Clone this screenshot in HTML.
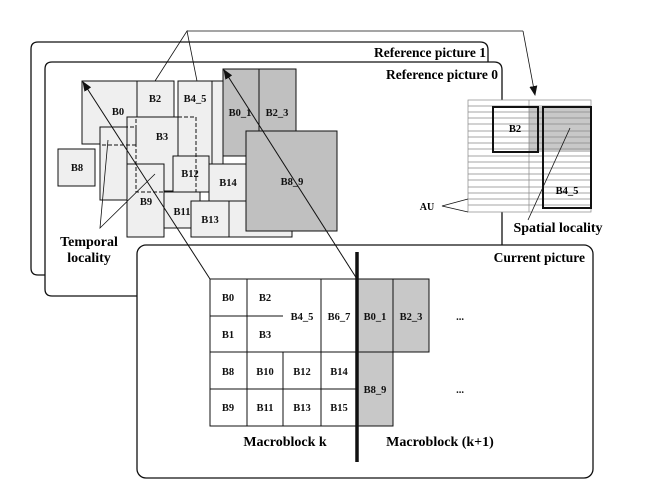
<!DOCTYPE html>
<html><head><style>html,body{margin:0;padding:0;background:#fff}svg{display:block}</style></head><body>
<svg width="646" height="496" viewBox="0 0 646 496" xmlns="http://www.w3.org/2000/svg" font-family="Liberation Serif, serif" font-weight="bold">
<defs><marker id="ah" markerWidth="10" markerHeight="8" refX="9" refY="4" orient="auto" markerUnits="userSpaceOnUse"><path d="M0,0 L10,4 L0,8 z" fill="#111"/></marker></defs>
<!-- Reference picture 1 -->
<path d="M45,275 L38,275 Q31,275 31,268 L31,49 Q31,42 38,42 L480,42 Q488,42 488,50 L488,62" fill="none" stroke="#111" stroke-width="1.3"/>
<text x="486" y="57" font-size="13.5" text-anchor="end">Reference picture 1</text>
<!-- Reference picture 0 -->
<path d="M137,296 L52,296 Q45,296 45,289 L45,69 Q45,62 52,62 L494,62 Q502,62 502,70 L502,100 M502,212 L502,245" fill="none" stroke="#111" stroke-width="1.3"/>
<text x="498" y="79" font-size="13.5" text-anchor="end">Reference picture 0</text>
<!-- ref blocks -->
<g stroke="#111" stroke-width="1" fill="#efefef">
<rect x="82" y="81" width="55" height="63"/>
<rect x="137" y="81" width="37" height="36"/>
<rect x="178" y="81" width="34" height="83"/>
<rect x="212" y="81" width="11" height="83"/>
<rect x="58" y="149" width="37" height="37"/>
<rect x="100" y="127" width="27" height="73"/>
<rect x="127" y="117" width="51" height="74"/>
<rect x="173" y="156" width="36" height="36"/>
<rect x="209" y="164" width="37" height="37"/>
<rect x="127" y="164" width="37" height="73"/>
<rect x="164" y="192" width="36" height="36"/>
<rect x="191" y="201" width="38" height="36"/>
<rect x="229" y="201" width="63" height="36"/>
</g>
<g stroke="#111" stroke-width="1" fill="none" stroke-dasharray="4,2">
<rect x="136" y="117" width="60" height="75"/>
<rect x="100" y="127" width="36" height="18"/>
</g>
<g stroke="#111" stroke-width="1" fill="#c0c0c0">
<rect x="223" y="69" width="36" height="87"/>
<rect x="259" y="69" width="37" height="87"/>
<rect x="246" y="131" width="91" height="100"/>
</g>
<g font-size="10.5" text-anchor="middle" fill="#111">
<text x="118" y="115">B0</text><text x="155" y="102">B2</text><text x="195" y="102">B4_5</text>
<text x="162" y="140">B3</text><text x="77" y="171">B8</text><text x="190" y="177">B12</text>
<text x="228" y="186">B14</text><text x="146" y="205">B9</text><text x="182" y="215">B11</text>
<text x="210" y="223">B13</text><text x="240" y="116">B0_1</text><text x="277" y="116">B2_3</text>
<text x="292" y="185">B8_9</text>
</g>
<!-- temporal locality lines -->
<path d="M108,140 L100,228 L155,174" fill="none" stroke="#111" stroke-width="0.8"/>
<text x="89" y="246" font-size="14" text-anchor="middle">Temporal</text>
<text x="89" y="262" font-size="14" text-anchor="middle">locality</text>
<!-- top lines -->
<path d="M155,81 L187,31 L197,81 M187,31 L523,31" fill="none" stroke="#111" stroke-width="0.8"/>
<line x1="523" y1="31" x2="535" y2="95" stroke="#111" stroke-width="0.8" marker-end="url(#ah)"/>
<!-- AU grid -->
<rect x="529" y="107" width="62" height="45" fill="#c8c8c8"/>
<g stroke="#888" stroke-width="0.7">
<rect x="468" y="100" width="123" height="112" fill="none"/>
<line x1="529" y1="100" x2="529" y2="212"/>
<path d="M468,106h123M468,112h123M468,118h123M468,124h123M468,131h123M468,137h123M468,143h123M468,149h123M468,156h123M468,162h123M468,168h123M468,174h123M468,180h123M468,187h123M468,193h123M468,199h123M468,205h123"/>
</g>
<rect x="493" y="107" width="45" height="45" fill="none" stroke="#111" stroke-width="2"/>
<rect x="543" y="107" width="48" height="101" fill="none" stroke="#111" stroke-width="2"/>
<text x="515" y="132" font-size="10.5" text-anchor="middle">B2</text>
<text x="567" y="194" font-size="10.5" text-anchor="middle">B4_5</text>
<text x="427" y="210" font-size="10" text-anchor="middle">AU</text>
<path d="M468,199 L442,206 L468,212" fill="none" stroke="#111" stroke-width="0.8"/>
<line x1="528" y1="220" x2="570" y2="128" stroke="#111" stroke-width="0.8"/>
<text x="558" y="232" font-size="14" text-anchor="middle">Spatial locality</text>
<!-- Current picture -->
<rect x="137" y="245" width="456" height="233" rx="9" fill="#fff" stroke="#111" stroke-width="1.3"/>
<text x="585" y="262" font-size="13.5" text-anchor="end">Current picture</text>
<g stroke="#111" stroke-width="1" fill="#fff">
<rect x="210" y="279" width="147" height="147"/>
</g>
<g stroke="#111" stroke-width="1" fill="#c8c8c8">
<rect x="357" y="279" width="36" height="73"/><rect x="393" y="279" width="36" height="73"/>
<rect x="357" y="352" width="36" height="74"/>
</g>
<path d="M247,279V426M283,352V426M321,279V426M210,316H283M210,352H357M210,389H357" stroke="#111" stroke-width="1" fill="none"/>
<g font-size="10.5" text-anchor="middle" fill="#111">
<text x="228" y="301">B0</text><text x="265" y="301">B2</text>
<text x="228" y="338">B1</text><text x="265" y="338">B3</text>
<text x="302" y="320">B4_5</text><text x="339" y="320">B6_7</text>
<text x="375" y="320">B0_1</text><text x="411" y="320">B2_3</text>
<text x="228" y="375">B8</text><text x="265" y="375">B10</text><text x="302" y="375">B12</text><text x="339" y="375">B14</text>
<text x="228" y="411">B9</text><text x="265" y="411">B11</text><text x="302" y="411">B13</text><text x="339" y="411">B15</text>
<text x="375" y="393">B8_9</text>
<text x="460" y="320">...</text><text x="460" y="393">...</text>
</g>
<line x1="357" y1="252" x2="357" y2="462" stroke="#111" stroke-width="3.5"/>
<text x="285" y="446" font-size="14" text-anchor="middle">Macroblock k</text>
<text x="440" y="446" font-size="14" text-anchor="middle">Macroblock (k+1)</text>
<!-- motion arrows -->
<line x1="210" y1="279" x2="83" y2="82" stroke="#111" stroke-width="1" marker-end="url(#ah)"/>
<line x1="357" y1="279" x2="224" y2="70" stroke="#111" stroke-width="1" marker-end="url(#ah)"/>
</svg>
</body></html>
